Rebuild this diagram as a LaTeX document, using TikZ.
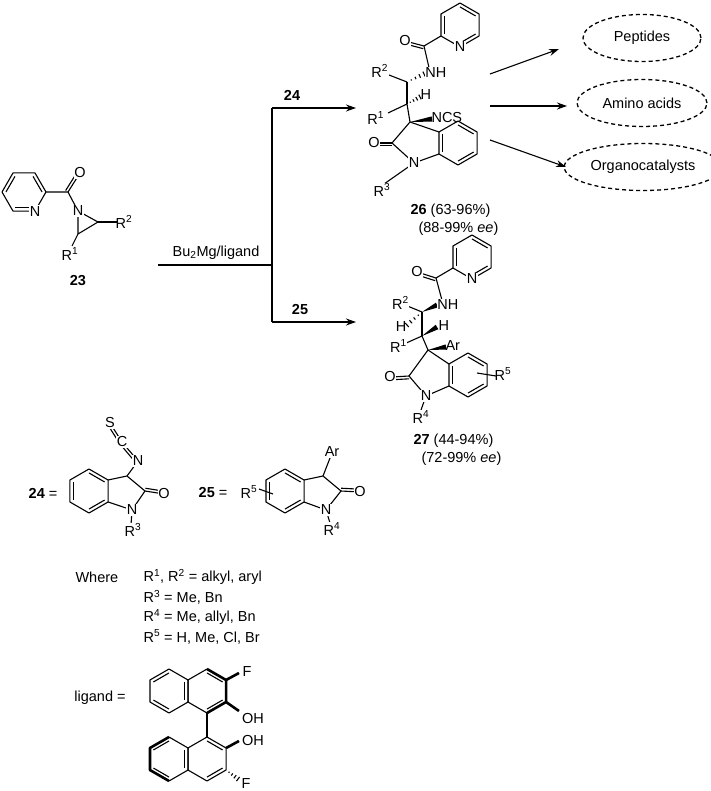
\documentclass[tikz,border=0pt]{standalone}
\usepackage{fontspec}
\setmainfont{Liberation Sans}
\usetikzlibrary{calc,arrows.meta,shapes.geometric}
\newcommand\mkring[5]{\coordinate (#1c) at (#2,#3);\foreach \i in {1,...,6}{\coordinate (#1\i) at ($(#2,#3)+({#5+60*(\i-1)}:#4)$);}}
\newcommand\drawring[1]{\draw (#11)--(#12)--(#13)--(#14)--(#15)--(#16)--cycle;}
\newcommand\inr[3]{\draw ($(#1#2)!0.18!(#1c)$)--($(#1#3)!0.18!(#1c)$);}
\newcommand\dblo[2]{\draw ($(#1)!2.8pt!90:(#2)$)--($(#2)!2.8pt!-90:(#1)$);}
\newcommand\wdg[2]{\fill (#1)--($(#2)!2.6pt!90:(#1)$)--($(#2)!2.6pt!-90:(#1)$)--cycle;}
\newcommand\hsh[2]{\coordinate (hA) at ($(#2)!2.6pt!90:(#1)$);\coordinate (hB) at ($(#2)!2.6pt!-90:(#1)$);
 \foreach \t in {0.25,0.5,0.75,1}{\draw ($(#1)!\t!(hA)$)--($(#1)!\t!(hB)$);}}
\newcommand\Rs[1]{R\textsuperscript{#1}}
\begin{document}
\begin{tikzpicture}[x=1pt,y=-1pt,line width=1.1pt,line join=round,
 every node/.style={font=\fontsize{14.5}{16}\selectfont},
 atm/.style={inner sep=0.8pt,fill=white},
 lab/.style={inner sep=0pt},
 arr/.style={-{Stealth[length=10pt,width=7pt]}},
 bd/.style={line width=2.6pt},
 oval/.style={draw,ellipse,dashed,dash pattern=on 4pt off 3pt,line width=1.3pt,minimum width=118pt,minimum height=47pt}]
\useasboundingbox (0,0) rectangle (710,791);
% ---------- 23
\mkring{pa}{24}{192}{22}{0}
\drawring{pa}\inr{pa}{2}{3}\inr{pa}{4}{5}\inr{pa}{6}{1}
\coordinate (c23) at (68,192);\coordinate (o23) at (80,173);\coordinate (n23) at (78,211);
\coordinate (a23) at (98,222);\coordinate (b23) at (78,234);
\draw (pa1)--(c23)--(n23);\draw (n23)--(a23)--(b23)--(n23);\draw (c23)--(o23);\dblo{c23}{o23}
\draw (a23)--(118,222);\draw (b23)--(72,246);
\node[atm] (N23p) at (pa2) {N};\node[atm] (O23) at (o23) {O};\node[atm] (N23) at (n23) {N};
\node[lab,anchor=west] (R223) at (115,222) {\Rs{2}};\node[lab] (R123) at (70,254) {\Rs{1}};
\node[lab] (l23) at (78,281) {\textbf{23}};
% ---------- arrows
\coordinate (s0) at (158,265);\coordinate (j0) at (272,265);\coordinate (jt) at (272,108);\coordinate (jb) at (272,322);
\coordinate (e24) at (356,108);\coordinate (e25) at (356,322);
\draw (s0)--(j0);\draw (jt)--(jb);\draw[arr] (jt)--(e24);\draw[arr] (jb)--(e25);
\node[lab] (cond) at (216,253) {Bu\textsubscript{2}Mg/ligand};
\node[lab] (l24a) at (292,95) {\textbf{24}};\node[lab] (l25a) at (300,310) {\textbf{25}};
% ---------- 26
\mkring{pb}{460}{25}{22}{30}
\drawring{pb}\inr{pb}{1}{2}\inr{pb}{3}{4}\inr{pb}{5}{6}
\coordinate (c26) at (424,46);\coordinate (o26) at (405,41);\coordinate (nh26) at (430,72);
\coordinate (ca26) at (407,82);\coordinate (cb26) at (407,104);\coordinate (c3) at (410,122);
\coordinate (c2) at (392,143);\coordinate (n26) at (414,163);
\mkring{bb}{458}{143}{22}{30}
\drawring{bb}\inr{bb}{1}{2}\inr{bb}{3}{4}\inr{bb}{5}{6}
\draw (pb3)--(c26)--(o26);\dblo{c26}{o26}\draw (c26)--(nh26);
\hsh{ca26}{424,74}\draw (ca26)--(389,75);\draw (ca26)--(cb26);\hsh{cb26}{420,97}\draw (cb26)--(388,113);
\draw (cb26)--(c3)--(bb4);\draw (c3)--(c2)--(n26)--(bb3);\draw (c2)--(376,143);\dblo{c2}{376,143}
\wdg{c3}{432,119}\draw (n26)--(384,184);
\node[atm] (N26p) at (pb2) {N};\node[atm] (O26) at (o26) {O};\node[atm,anchor=west] (NH26) at (424,73) {NH};
\node[atm,anchor=west] (R226) at (370,71) {\Rs{2}};\node[lab,anchor=west] (H26) at (420,95) {H};
\node[atm,anchor=west] (R126) at (366,118) {\Rs{1}};\node[lab,anchor=west] (NCS) at (431,118) {NCS};
\node[atm] (O26b) at (374,143) {O};\node[atm] (N26) at (n26) {N};\node[atm] (R326) at (382,190) {\Rs{3}};
\node[lab,anchor=west] (l26) at (410,211) {\textbf{26} (63-96\%)};
\node[lab,anchor=west] (l26b) at (418,229) {(88-99\% \emph{ee})};
% ---------- ovals
\node[oval] (pep) at (642,38) {Peptides};
\node[oval,minimum width=130pt] (ami) at (642,103) {Amino acids};
\node[oval,minimum width=130pt] (org) at (643,167) {Organocatalysts};
\coordinate (f1) at (490,74);\coordinate (f2) at (490,106);\coordinate (f3) at (490,140);
\draw[arr] (f1)--(559,49);\draw[arr] (f2)--(567,106);\draw[arr] (f3)--(566,167);
% ---------- 27
\mkring{pc}{472}{257}{22}{30}
\drawring{pc}\inr{pc}{1}{2}\inr{pc}{3}{4}\inr{pc}{5}{6}
\mkring{bc}{468}{375}{22}{30}
\drawring{bc}\inr{bc}{1}{2}\inr{bc}{3}{4}\inr{bc}{5}{6}
\coordinate (c27) at (436,278);\coordinate (o27) at (417,272);\coordinate (nh27) at (443,304);
\coordinate (ca27) at (422,312);\coordinate (cb27) at (422,336);\coordinate (c327) at (428,350);
\coordinate (c227) at (409,376);\coordinate (n27) at (426,396);
\draw (pc3)--(c27)--(o27);\dblo{c27}{o27}\draw (c27)--(nh27);
\draw (ca27)--(405,305);\wdg{ca27}{437,305}\hsh{ca27}{407,325}\draw (ca27)--(cb27);
\wdg{cb27}{437,327}\draw (cb27)--(404,344);\draw (cb27)--(c327)--(bc4);
\draw (c327)--(c227)--(n27)--(bc3);\draw (c227)--(392,377);\dblo{c227}{392,377}
\wdg{c327}{446,347}\draw (n27)--(421,410);
\draw (477,373)--(496,376);
\node[atm] (N27p) at (pc2) {N};\node[atm] (O27) at (o27) {O};\node[atm,anchor=west] (NH27) at (436,305) {NH};
\node[atm,anchor=east] (R227) at (410,303) {\Rs{2}};\node[lab] (Ha27) at (401,327) {H};\node[lab,anchor=west] (Hb27) at (438,326) {H};
\node[atm,anchor=east] (R127) at (408,346) {\Rs{1}};\node[lab,anchor=west] (Ar27) at (445,346) {Ar};
\node[atm] (O27b) at (390,377) {O};\node[atm] (N27) at (n27) {N};\node[atm] (R427) at (421,417) {\Rs{4}};
\node[lab,anchor=west] (R527) at (494,374) {\Rs{5}};
\node[lab,anchor=west] (l27) at (413,441) {\textbf{27} (44-94\%)};
\node[lab,anchor=west] (l27b) at (421,459) {(72-99\% \emph{ee})};
% ---------- 24
\node[lab] (eq24) at (43,493) {\textbf{24} =};
\mkring{bd}{89}{491}{22}{30}
\drawring{bd}\inr{bd}{3}{4}\inr{bd}{5}{6}\inr{bd}{1}{2}
\coordinate (c324) at (127,476);\coordinate (c224) at (145,491);\coordinate (n24) at (132,510);
\coordinate (nn24) at (138,461);\coordinate (cc24) at (122,442);\coordinate (s24) at (110,423);
\draw (bd6)--(c324)--(c224)--(n24)--(bd1);\draw (c224)--(164,494);\dblo{c224}{164,494}
\draw (n24)--(131,525);\draw (c324)--(nn24)--(cc24)--(s24);\dblo{nn24}{cc24}\dblo{cc24}{s24}
\node[atm] (N24a) at (nn24) {N};\node[atm] (C24) at (cc24) {C};\node[atm] (S24) at (s24) {S};
\node[atm] (O24) at (164,494) {O};\node[atm] (N24) at (n24) {N};\node[atm] (R324) at (133,530) {\Rs{3}};
% ---------- 25
\node[lab] (eq25) at (213,493) {\textbf{25} =};
\mkring{be}{285}{491}{22}{30}
\drawring{be}\inr{be}{3}{4}\inr{be}{5}{6}\inr{be}{1}{2}
\coordinate (c325) at (323,476);\coordinate (c225) at (341,491);\coordinate (n25) at (326,510);
\draw (be6)--(c325)--(c225)--(n25)--(be1);\draw (c225)--(360,492);\dblo{c225}{360,492}
\draw (c325)--(330,458);\draw (n25)--(330,523);\draw (259,489)--(273,494);
\node[atm] (Ar25) at (332,452) {Ar};\node[atm] (O25) at (360,492) {O};\node[atm] (N25) at (n25) {N};
\node[atm] (R425) at (332,529) {\Rs{4}};\node[lab] (R525) at (249,492) {\Rs{5}};
% ---------- where
\node[lab,anchor=west] (wh) at (75,577) {Where};
\node[lab,anchor=west] (w1) at (143,577) {\Rs{1}, \Rs{2} = alkyl, aryl};
\node[lab,anchor=west] (w2) at (143,597) {\Rs{3} = Me, Bn};
\node[lab,anchor=west] (w3) at (143,617) {\Rs{4} = Me, allyl, Bn};
\node[lab,anchor=west] (w4) at (143,637) {\Rs{5} = H, Me, Cl, Br};
% ---------- ligand
\node[lab] (lig) at (100,698) {ligand =};
\mkring{la}{169}{691}{22}{30}\mkring{lb}{207}{691}{22}{30}
\mkring{lc}{207}{759}{22}{30}\mkring{ld}{169}{759}{22}{30}
\drawring{la}\drawring{lb}\drawring{lc}\drawring{ld}
\inr{la}{2}{3}\inr{la}{4}{5}\inr{la}{6}{1}\inr{lb}{5}{6}\inr{lb}{1}{2}
\inr{lc}{5}{6}\inr{lc}{1}{2}\inr{ld}{2}{3}\inr{ld}{4}{5}\inr{ld}{6}{1}
\draw[bd] (lb5)--(lb6)--(lb1)--(lb2);\draw[bd] (lb6)--(239,673);\draw[bd] (lb1)--(239,711);
\draw[bd] (ld5)--(ld4)--(ld3)--(ld2);\draw[bd] (lc6)--(239,741);
\draw (lb2)--(lc5);\hsh{lc1}{238,779}
\node[atm] (F1) at (247,672) {F};\node[atm] (OH1) at (253,718) {OH};
\node[atm] (OH2) at (253,740) {OH};\node[atm] (F2) at (246,784) {F};
\end{tikzpicture}
\end{document}
